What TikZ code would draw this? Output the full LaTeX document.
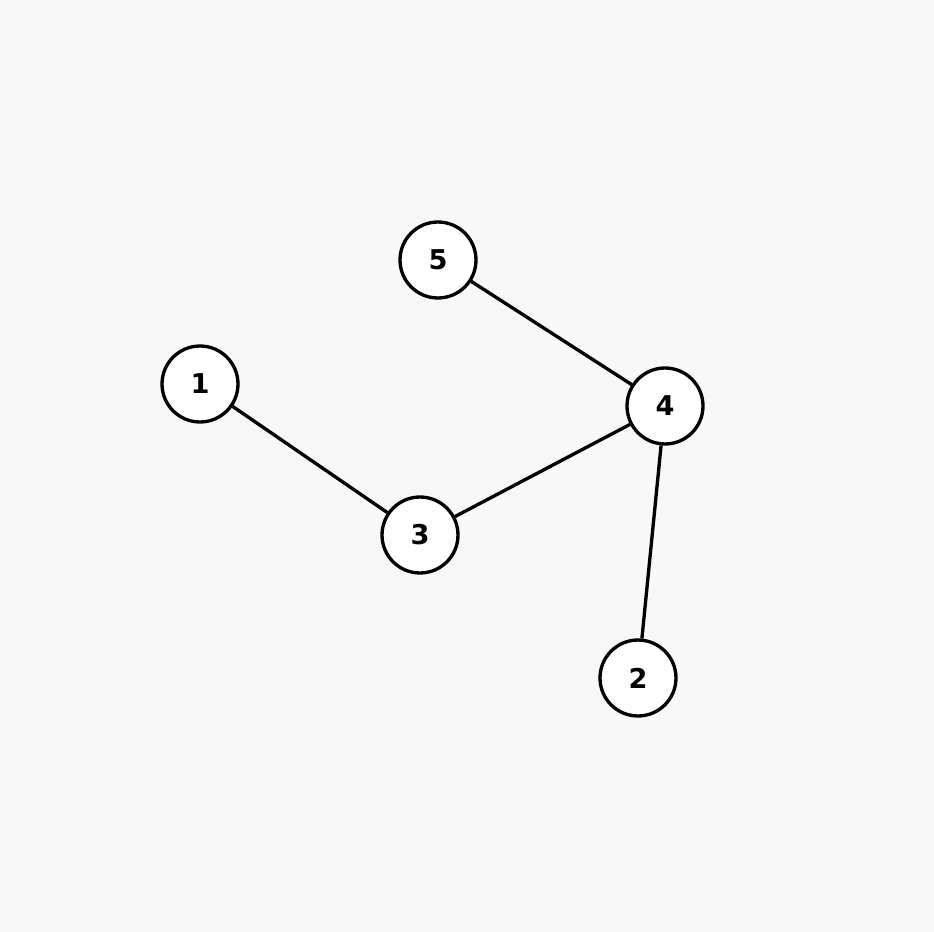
\documentclass[tikz,border=0pt]{standalone}
\usepackage{fontspec}
\setmainfont{DejaVu Sans}
\usepackage{xcolor}
\usepackage{tikz}
\definecolor{bggray}{RGB}{248, 248, 248}

\begin{document}
\begin{tikzpicture}[x=0.02cm, y=-0.02cm]
\tikzstyle{vertex} = [circle, minimum size=1.52cm, inner sep=0pt, draw=black, line width=1.9pt, fill=white, font=\fontsize{15.5}{18}\selectfont\bfseries]
\tikzstyle{edge} = [line width=1.9pt, draw=black]

% Background
\fill[bggray] (0,0) rectangle (934,932);
\useasboundingbox (0,0) rectangle (934,932);

% Nodes
\node[vertex] (n1) at (200,384) {1};
\node[vertex] (n2) at (638,678) {2};
\node[vertex] (n3) at (420,535) {3};
\node[vertex] (n4) at (665,406) {4};
\node[vertex] (n5) at (438,260) {5};

% Edges
\draw[edge] (n1) -- (n3);
\draw[edge] (n3) -- (n4);
\draw[edge] (n5) -- (n4);
\draw[edge] (n4) -- (n2);
\end{tikzpicture}
\end{document}
